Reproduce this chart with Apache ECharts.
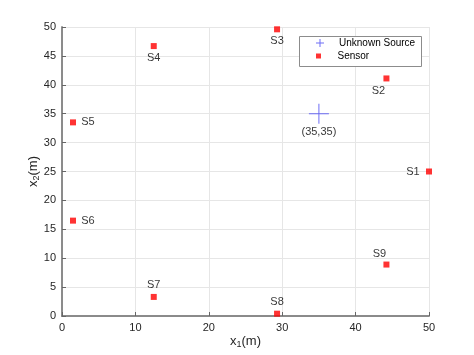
<!DOCTYPE html>
<html>
<head>
<meta charset="utf-8">
<script src="https://cdn.jsdelivr.net/npm/echarts@6/dist/echarts.min.js"></script>
<style>
html,body{margin:0;padding:0;background:#fff;}
#c{width:474px;height:355px;}
</style>
</head>
<body>
<div id="c"></div>
<script>
// ---- data ----
var sensorNames = ['S1','S2','S3','S4','S5','S6','S7','S8','S9'];
var sensorX = [50, 44.2, 29.3, 12.5, 1.5, 1.5, 12.5, 29.3, 44.2];
var sensorY = [25, 41.1, 49.6, 46.7, 33.5, 16.5, 3.3, 0.4, 8.9];
var sourceX = [35];
var sourceY = [35];
var sourceLabels = ['(35,35)'];
var xTicks = [0, 10, 20, 30, 40, 50];
var yTicks = [0, 5, 10, 15, 20, 25, 30, 35, 40, 45, 50];

// label offsets (styling)
var sensorLabelOffsets = {
  S1: [-16, 0], S2: [-8, 13], S3: [0, 12], S4: [0, 12], S5: [15, 0],
  S6: [15, 0], S7: [0, -12], S8: [0, -12], S9: [-7, -11]
};

var FONT = '"Liberation Sans", Arial, Helvetica, sans-serif';
var AX = '#666666';
var AX2 = '#8c8c8c';
var TXT = '#262626';

var sensorData = sensorNames.map(function (n, i) {
  return {
    name: n,
    value: [sensorX[i], sensorY[i]],
    label: { show: true, formatter: n, position: 'inside', offset: sensorLabelOffsets[n] }
  };
});
var sourceData = sourceX.map(function (x, i) {
  return {
    value: [x, sourceY[i]],
    label: { show: true, formatter: sourceLabels[i], position: 'inside', offset: [0, 18] }
  };
});

var plusBig = 'path://M0,9.5h20v1h-20zM9.5,0h1v20h-1z';
var plusSmall = 'path://M0,3.5h8v1h-8zM3.5,0h1v8h-1z';
var squareSmall = 'path://M0,0h5v5h-5z';

var chart = echarts.init(document.getElementById('c'), null, { renderer: 'canvas' });
chart.setOption({
  animation: false,
  backgroundColor: '#fff',
  textStyle: { fontFamily: FONT },
  grid: { left: 62, right: 45, top: 27, bottom: 39, containLabel: false, outerBoundsMode: 'none' },
  graphic: [{
    type: 'rect', left: 299, top: 36, z: 5,
    shape: { width: 122, height: 30 },
    style: { fill: '#fff', stroke: '#8c8c8c', lineWidth: 1 }
  }],
  legend: [{
    data: [{ name: 'Unknown Source', icon: plusSmall }],
    left: 299, top: 38, padding: [0, 6, 0, 17], itemWidth: 28, itemHeight: 8, z: 10,
    textStyle: { fontFamily: FONT, fontSize: 10, color: '#000' }
  }, {
    data: [{ name: 'Sensor', icon: squareSmall }],
    left: 299, top: 51, padding: [0, 6, 0, 17], itemWidth: 28, itemHeight: 5, z: 10,
    textStyle: { fontFamily: FONT, fontSize: 10, color: '#000' }
  }],
  xAxis: [{
    type: 'value', min: xTicks[0], max: xTicks[xTicks.length - 1], interval: xTicks[1] - xTicks[0],
    position: 'bottom',
    name: 'x{s|1}(m)', nameLocation: 'middle', nameGap: 17, nameMoveOverlap: false,
    nameTextStyle: {
      fontFamily: FONT, fontSize: 13, color: TXT,
      rich: { s: { fontFamily: FONT, fontSize: 9, color: TXT, padding: [7, 0, 0, 0] } }
    },
    axisLine: { show: true, lineStyle: { color: AX, width: 1.5 } },
    axisTick: { show: true, inside: true, length: 4, lineStyle: { color: AX } },
    axisLabel: { fontFamily: FONT, fontSize: 11, color: TXT, margin: 6 },
    splitLine: { show: true, lineStyle: { color: '#e6e6e6', width: 1 } }
  }, {
    type: 'value', min: xTicks[0], max: xTicks[xTicks.length - 1], interval: xTicks[1] - xTicks[0],
    position: 'top',
    axisLine: { show: true, lineStyle: { color: AX2, width: 1.5 } },
    axisTick: { show: false },
    axisLabel: { show: false },
    splitLine: { show: false }
  }],
  yAxis: [{
    type: 'value', min: yTicks[0], max: yTicks[yTicks.length - 1], interval: yTicks[1] - yTicks[0],
    position: 'left',
    name: 'x{s|2}(m)', nameLocation: 'middle', nameGap: 21, nameRotate: 90, nameMoveOverlap: false,
    nameTextStyle: {
      fontFamily: FONT, fontSize: 13, color: TXT,
      rich: { s: { fontFamily: FONT, fontSize: 9, color: TXT, padding: [7, 0, 0, 0] } }
    },
    axisLine: { show: true, lineStyle: { color: AX, width: 1.5 } },
    axisTick: { show: true, inside: true, length: 4, lineStyle: { color: AX } },
    axisLabel: { fontFamily: FONT, fontSize: 11, color: TXT, margin: 6 },
    splitLine: { show: true, lineStyle: { color: '#e6e6e6', width: 1 } }
  }, {
    type: 'value', min: yTicks[0], max: yTicks[yTicks.length - 1], interval: yTicks[1] - yTicks[0],
    position: 'right',
    axisLine: { show: true, lineStyle: { color: AX2, width: 1.5 } },
    axisTick: { show: false },
    axisLabel: { show: false },
    splitLine: { show: false }
  }],
  series: [{
    name: 'Unknown Source', type: 'scatter', clip: false,
    xAxisIndex: 0, yAxisIndex: 0,
    symbol: plusBig, symbolSize: 20,
    itemStyle: { color: '#4a4af2' },
    label: { color: '#000', fontSize: 11, fontFamily: FONT },
    data: sourceData
  }, {
    name: 'Sensor', type: 'scatter', clip: false,
    xAxisIndex: 0, yAxisIndex: 0,
    symbol: 'rect', symbolSize: 6,
    itemStyle: { color: '#ff0000' },
    label: { color: '#000', fontSize: 11, fontFamily: FONT },
    data: sensorData
  }]
});
</script>
</body>
</html>
